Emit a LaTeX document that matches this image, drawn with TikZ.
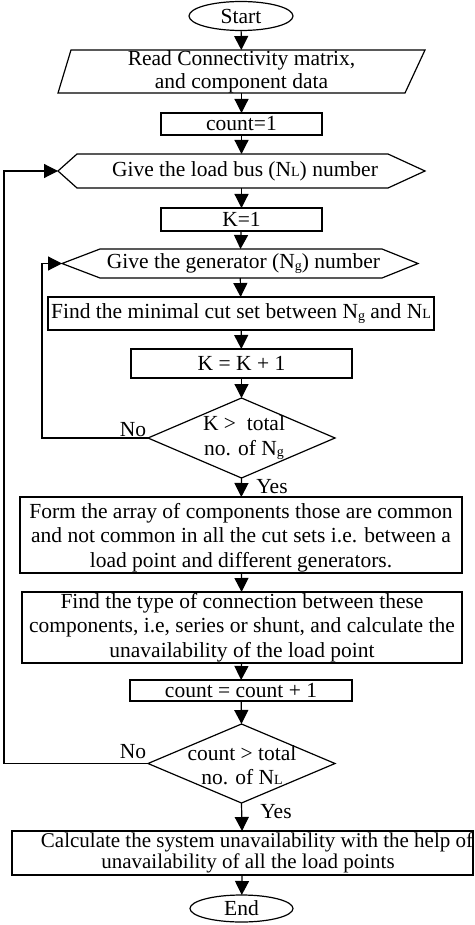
\documentclass[tikz,border=0pt]{standalone}
\usepackage{fontspec}
\setmainfont{Liberation Serif}
\usetikzlibrary{shapes.geometric,arrows.meta}
\newcommand{\NL}{N{\fontsize{14}{14}\selectfont L}}
\newcommand{\Ng}{N\raisebox{-1.5pt}{\fontsize{14}{14}\selectfont g}}
\begin{document}
\begin{tikzpicture}[x=1pt,y=-1pt,
  every node/.style={font=\fontsize{21.5}{24.5}\selectfont, inner sep=0pt, outer sep=0pt},
  line/.style={line width=1.2pt},
  arr/.style={line width=1.2pt, -{Triangle[length=14pt,width=14pt]}},
  box/.style={draw, line width=1.2pt, rectangle, align=center},
  term/.style={draw, line width=1.2pt, ellipse},
  plain/.style={align=center},
  dec/.style={draw, line width=1.2pt, diamond}
]
\useasboundingbox (0,0) rectangle (474,925);
% start / end
\node[term, minimum width=104pt, minimum height=29pt] (start) at (241,16) {Start};
% parallelogram
\node[plain, minimum width=367pt, minimum height=43pt, font=\fontsize{21.5}{23}\selectfont] (par) at (241.5,71.5) {Read Connectivity matrix,\\and component data};
\draw[line] (par.south west) -- ([xshift=13pt]par.north west) -- (par.north east) -- ([xshift=-20pt]par.south east) -- cycle;
\node[box, minimum width=161pt, minimum height=22pt] (cnt1) at (241.5,124) {count=1};
% hexagon load bus
\node[plain, minimum width=367pt, minimum height=34pt] (hexA) at (241.5,171) {\hspace{7pt}Give the load bus (\NL) number};
\draw[line] (hexA.west) -- ([xshift=19pt]hexA.north west) -- ([xshift=-37pt]hexA.north east) -- (hexA.east) -- ([xshift=-37pt]hexA.south east) -- ([xshift=19pt]hexA.south west) -- cycle;
\node[box, minimum width=161pt, minimum height=23pt] (k1) at (241.5,219.5) {K=1};
% hexagon generator
\node[plain, minimum width=356pt, minimum height=29pt] (hexB) at (240,263.5) {\hspace{7pt}Give the generator (\Ng) number};
\draw[line] (hexB.west) -- ([xshift=38pt]hexB.north west) -- ([xshift=-36pt]hexB.north east) -- (hexB.east) -- ([xshift=-36pt]hexB.south east) -- ([xshift=38pt]hexB.south west) -- cycle;
\node[box, minimum width=386pt, minimum height=33pt] (mcs) at (241,313.5) {Find the minimal cut set between \Ng{} and \NL};
\node[box, minimum width=221pt, minimum height=29pt] (kk) at (241.5,363.5) {K = K + 1};
% decision 1
\node[dec, minimum width=187pt, minimum height=80pt] (d1) at (241.5,438) {};
\node[plain] (d1t) at (244,438) {K >\ \ total\\no. of \Ng};
\node[box, minimum width=442pt, minimum height=76pt] (form) at (241,535) {\rule{0pt}{20pt}Form the array of components those are common\\and not common in all the cut sets i.e. between a\\load point and different generators.};
\node[box, minimum width=440pt, minimum height=71pt] (type) at (242,627.5) {Find the type of connection between these\\components, i.e, series or shunt, and calculate the\\unavailability of the load point};
\node[box, minimum width=222pt, minimum height=21pt] (cnt2) at (241,690.5) {count = count + 1};
% decision 2
\node[dec, minimum width=187pt, minimum height=79pt] (d2) at (241.5,763.5) {};
\node[plain] (d2t) at (242,765) {count > total\\no. of \NL};
\node[box, minimum width=461pt, minimum height=44pt, font=\fontsize{21}{20.5}\selectfont] (calc) at (242.5,853) {\hspace{29pt}Calculate the system unavailability with the help of\\\hspace{11pt}unavailability of all the load points};
\node[term, minimum width=103pt, minimum height=27pt] (end) at (241.5,908.5) {End};
% labels
\node (no1) at (133,430) {No};
\node (yes1) at (272,487) {Yes};
\node (no2) at (133,752) {No};
\node (yes2) at (276,812) {Yes};
% loop coordinates
\coordinate (c1) at (42,438);
\coordinate (c2) at (42,263.5);
\coordinate (c3) at (4,763.5);
\coordinate (c4) at (4,171);
% connectors
\draw[arr] (start) -- (par);
\draw[arr] (par) -- (cnt1);
\draw[arr] (cnt1) -- (hexA);
\draw[arr] (hexA) -- (k1);
\draw[arr] (k1) -- (hexB);
\draw[arr] (hexB) -- (mcs);
\draw[arr] (mcs) -- (kk);
\draw[arr] (kk) -- (d1.north);
\draw[arr] (d1.south) -- (form);
\draw[arr] (form) -- (type);
\draw[arr] (type) -- (cnt2);
\draw[arr] (cnt2) -- (d2.north);
\draw[arr] (d2.south) -- (calc);
\draw[arr] (calc) -- (end);
\draw[arr] (d1.west) -- (c1) -- (c2) -- (hexB.west);
\draw[arr] (d2.west) -- (c3) -- (c4) -- (hexA.west);
\end{tikzpicture}
\end{document}
